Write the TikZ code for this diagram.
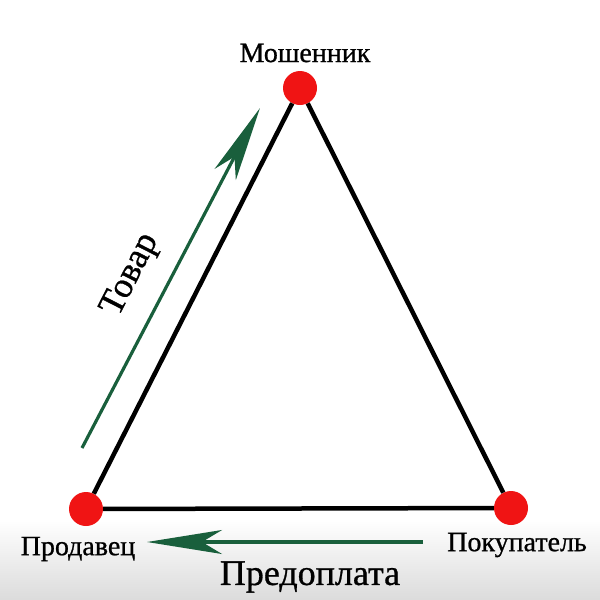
\documentclass[tikz,border=0pt]{standalone}
\usepackage{fontspec}
\setmainfont{Liberation Serif}[FakeBold=0.8]
\usetikzlibrary{arrows.meta}
\definecolor{arrowgreen}{RGB}{25,95,60}
\definecolor{dotred}{RGB}{240,20,20}
\begin{document}
\begin{tikzpicture}[x=1pt,y=-1pt,
  sideline/.style={line width=4.5pt,black},
  flow/.style={line width=3.2pt,arrowgreen,-{Stealth[length=75pt,width=24pt,inset=20pt]}},
  vertex/.style={circle,fill=dotred,minimum size=34pt,inner sep=0pt},
  lbl/.style={font=\fontsize{28}{30}\selectfont,inner sep=0pt},
  biglbl/.style={font=\fontsize{36}{38}\selectfont,inner sep=0pt}]
\useasboundingbox (0,0) rectangle (600,600);
\shade[top color=white,bottom color=black!14] (0,520) rectangle (600,600);
\node[vertex] (m) at (300,88) {};
\node[vertex] (p) at (86,509) {};
\node[vertex] (k) at (511,508) {};
\draw[sideline] (m) -- (p);
\draw[sideline] (m) -- (k);
\draw[sideline] (p) -- (k);
\coordinate (a1) at (82,448);
\coordinate (a2) at (260,108);
\coordinate (b1) at (423,542);
\coordinate (b2) at (147,542);
\draw[flow] (a1) -- (a2);
\draw[flow] (b1) -- (b2);
\node[lbl] (ml) at (305,53) {Мошенник};
\node[lbl] (pl) at (78,549) {Продавец};
\node[lbl] (kl) at (517,545) {Покупатель};
\node[biglbl] (pre) at (310,577) {Предоплата};
\node[biglbl,rotate=63] (tov) at (131,275) {Товар};
\end{tikzpicture}
\end{document}
